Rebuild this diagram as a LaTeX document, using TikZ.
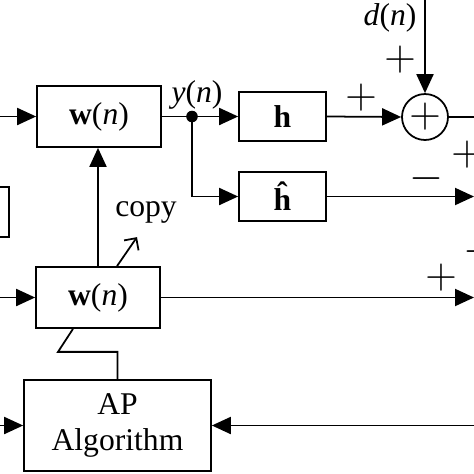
\documentclass[tikz,border=0pt]{standalone}
\usepackage{fontspec}
\setmainfont{Liberation Serif}
\usetikzlibrary{arrows.meta}
\tikzset{
	blk/.style={draw,line width=1pt,minimum width=2.48cm,minimum height=1.22cm,inner sep=0pt},
	hblk/.style={blk,minimum width=1.74cm,minimum height=0.98cm},
	sig/.style={line width=1pt,-{Triangle[length=10.8pt,width=9.7pt]}},
	sgn/.style={inner sep=0pt,font=\fontsize{25}{25}\selectfont}
}
\begin{document}
\begin{tikzpicture}[x=0.02cm,y=-0.02cm,font=\fontsize{18}{20}\selectfont,line width=1pt]
		\useasboundingbox (0,0) rectangle (474,474);
		\clip (0,0) rectangle (474,474);
		\coordinate (eL) at (0,0);
		\coordinate (eR) at (474,0);
		\node[blk] (wtop) at (99,116.5) {\textbf{w}(\textit{n})};
		\node[blk] (wlow) at (98,297.5) {\textbf{w}(\textit{n})};
		\node[hblk] (hh) at (282.5,116.5) {\textbf{h}};
		\node[hblk] (hest) at (282.5,196.5) {\textbf{ĥ}};
		\node[draw,minimum width=3.74cm,minimum height=1.82cm,align=center] (ap) at (117.5,425.5) {AP\\Algorithm};
		\node[draw,minimum width=1.2cm,minimum height=1cm] (lbox) at (-21,212) {};
		\node[draw,circle,minimum size=0.92cm,inner sep=0pt,font=\fontsize{31}{31}\selectfont] (sum) at (425,117) {$+$};
		\coordinate (yb) at (192,116.5);
		% signal paths
		\draw[sig] (wtop.west -| eL) -- (wtop.west);
		\draw[sig] (wlow.west -| eL) -- (wlow.west);
		\draw (wtop.east) -- (yb);
		\draw[sig] (yb) -- (hh.west);
		\draw[sig] (yb) |- (hest.west);
		\fill (yb) circle[radius=3.3pt];
		\node (ylab) at (197,95) {\textit{y}(\textit{n})};
		\draw[sig] (hh.east) -- (sum.west);
		\draw[sig] (sum.north |- eL) -- (sum.north);
		\node (dlab) at (390,18) {\textit{d}(\textit{n})};
		\draw (sum.east) -- (sum.east -| eR);
		\draw[sig] (hest.east) -- (hest.east -| eR);
		\draw[sig] (wlow.east) -- (wlow.east -| eR);
		\draw[sig] (wlow.north) -- (wlow.north |- wtop.south);
		\draw[-{Straight Barb[length=5pt,width=10pt]}] ([xshift=0.38cm]wlow.north) -- ++(20,-29);
		\node (copy) at (146,212) {copy};
		\draw ([xshift=-0.5cm]wlow.south) -- ++(-15,23) -| (ap.north);
		\draw[sig] (ap.west -| eL) -- (ap.west);
		\draw[sig] (ap.east -| eR) -- (ap.east);
		% signs
		\foreach \x/\y/\s in {400/60/+,361/98/+,467/155/+,426/179/-,441/278/+,480/252/-}
			\node[sgn] at (\x,\y) {$\s$};
	\end{tikzpicture}
\end{document}
